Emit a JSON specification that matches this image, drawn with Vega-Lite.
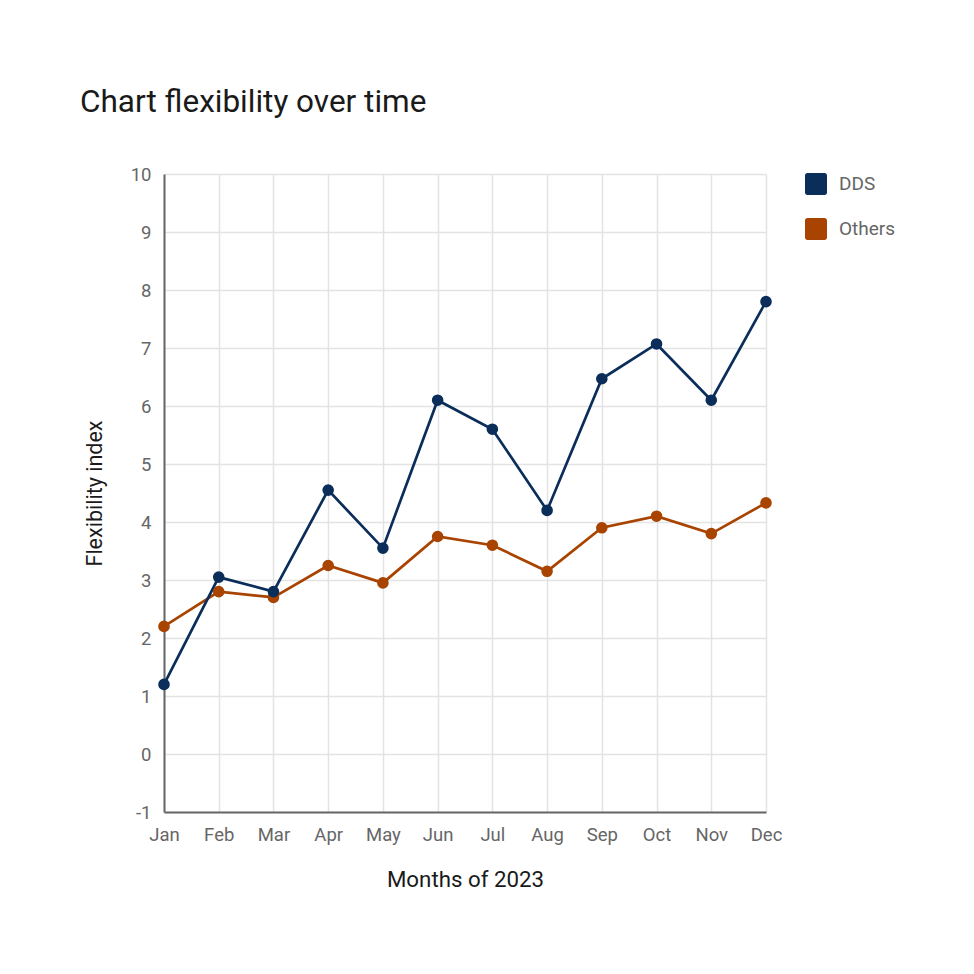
{
  "$schema": "https://vega.github.io/schema/vega-lite/v6.json",
  "width": 602,
  "height": 638,
  "autosize": "none",
  "padding": {"left": 164, "top": 174, "right": 208, "bottom": 162},
  "background": "#ffffff",
  "title": {
    "text": "Chart flexibility over time",
    "anchor": "start",
    "frame": "group",
    "dx": -84,
    "offset": 47,
    "font": "Roboto",
    "fontSize": 31.5,
    "fontWeight": "normal",
    "color": "#1a1a1a"
  },
  "data": {
    "values": [
      {"month": "Jan", "series": "Others", "value": 2.2},
      {"month": "Feb", "series": "Others", "value": 2.8},
      {"month": "Mar", "series": "Others", "value": 2.7},
      {"month": "Apr", "series": "Others", "value": 3.25},
      {"month": "May", "series": "Others", "value": 2.95},
      {"month": "Jun", "series": "Others", "value": 3.75},
      {"month": "Jul", "series": "Others", "value": 3.6},
      {"month": "Aug", "series": "Others", "value": 3.15},
      {"month": "Sep", "series": "Others", "value": 3.9},
      {"month": "Oct", "series": "Others", "value": 4.1},
      {"month": "Nov", "series": "Others", "value": 3.8},
      {"month": "Dec", "series": "Others", "value": 4.33},
      {"month": "Jan", "series": "DDS", "value": 1.2},
      {"month": "Feb", "series": "DDS", "value": 3.05},
      {"month": "Mar", "series": "DDS", "value": 2.8},
      {"month": "Apr", "series": "DDS", "value": 4.55},
      {"month": "May", "series": "DDS", "value": 3.55},
      {"month": "Jun", "series": "DDS", "value": 6.1},
      {"month": "Jul", "series": "DDS", "value": 5.6},
      {"month": "Aug", "series": "DDS", "value": 4.2},
      {"month": "Sep", "series": "DDS", "value": 6.47},
      {"month": "Oct", "series": "DDS", "value": 7.07},
      {"month": "Nov", "series": "DDS", "value": 6.1},
      {"month": "Dec", "series": "DDS", "value": 7.8}
    ]
  },
  "encoding": {
    "x": {
      "field": "month",
      "type": "ordinal",
      "sort": ["Jan","Feb","Mar","Apr","May","Jun","Jul","Aug","Sep","Oct","Nov","Dec"],
      "scale": {"type": "point", "padding": 0},
      "axis": {
        "title": "Months of 2023",
        "titleFontSize": 22.3,
        "labelAngle": 0,
        "labelPadding": 13,
        "titlePadding": 25,
        "grid": true
      }
    },
    "y": {
      "field": "value",
      "type": "quantitative",
      "scale": {"domain": [-1, 10], "nice": false, "zero": false},
      "axis": {
        "title": "Flexibility index",
        "values": [-1,0,1,2,3,4,5,6,7,8,9,10],
        "labelExpr": "'' + datum.value",
        "labelPadding": 13,
        "titlePadding": 24
      }
    },
    "color": {
      "field": "series",
      "type": "nominal",
      "scale": {"domain": ["DDS", "Others"], "range": ["#0a2d5a", "#a84300"]},
      "legend": {
        "title": null,
        "orient": "none",
        "legendX": 641,
        "legendY": -1,
        "symbolType": "M-1,-0.78 A0.22,0.22 0 0 1 -0.78,-1 L0.78,-1 A0.22,0.22 0 0 1 1,-0.78 L1,0.78 A0.22,0.22 0 0 1 0.78,1 L-0.78,1 A0.22,0.22 0 0 1 -1,0.78 Z",
        "symbolSize": 484,
        "symbolStrokeWidth": 0,
        "symbolOpacity": 1,
        "rowPadding": 23,
        "labelFont": "Roboto",
        "labelFontSize": 19,
        "labelColor": "#666666",
        "labelOffset": 12
      }
    }
  },
  "layer": [
    {"mark": {"type": "line", "strokeWidth": 2.7}},
    {"mark": {"type": "point", "filled": true, "size": 135, "opacity": 1}}
  ],
  "config": {
    "view": {"stroke": null},
    "axis": {
      "labelFont": "Roboto",
      "labelFontSize": 18.5,
      "labelColor": "#666666",
      "titleFont": "Roboto",
      "titleFontSize": 21.5,
      "titleFontWeight": "normal",
      "titleColor": "#1a1a1a",
      "domainColor": "#666666",
      "domainWidth": 2,
      "ticks": false,
      "gridColor": "#e3e3e3",
      "gridWidth": 1.5
    }
  }
}
